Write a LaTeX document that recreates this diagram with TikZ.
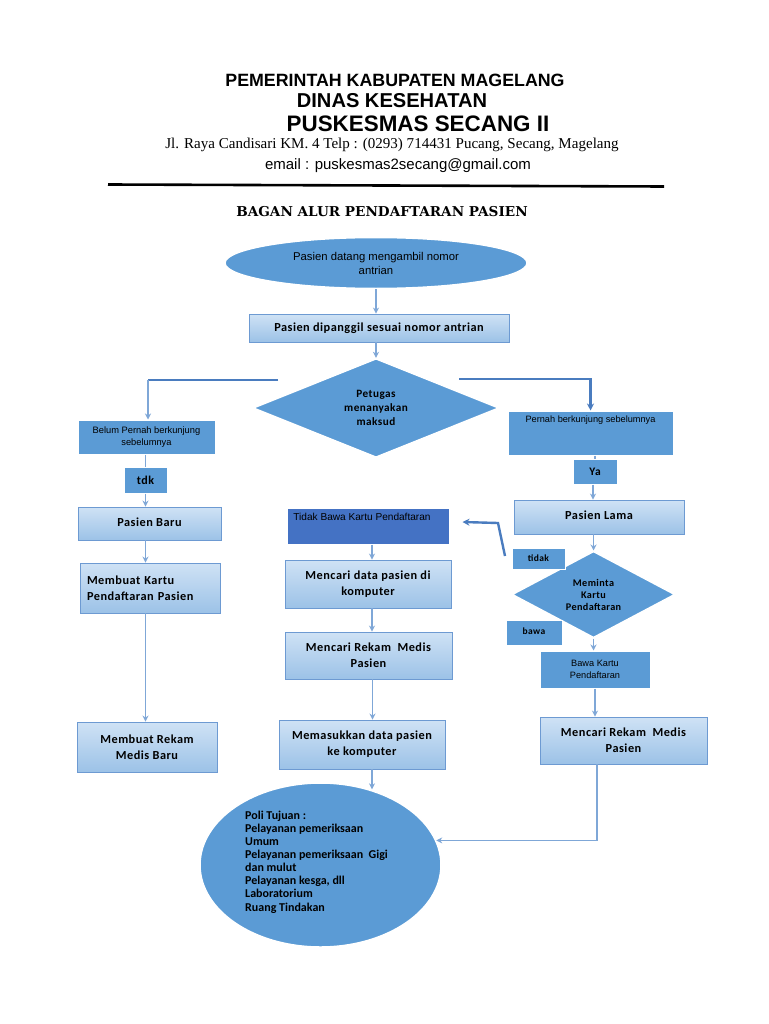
\documentclass[tikz,border=0pt]{standalone}
\usepackage{fontspec}
\usetikzlibrary{arrows.meta,shapes.geometric}
\setmainfont{Liberation Serif}
\newfontfamily\arialf{Liberation Sans}
\newfontfamily\calibf{Carlito}
\newfontfamily\calibsp[LetterSpace=4]{Carlito}
\newfontfamily\slabf{DejaVu Serif}
\definecolor{midblue}{HTML}{5B9BD5}
\definecolor{darkfill}{HTML}{4472C4}
\definecolor{boxtop}{HTML}{CFE2F5}
\definecolor{boxbot}{HTML}{9CC2E7}
\definecolor{boxborder}{HTML}{6D9AD2}
\definecolor{linec}{HTML}{7FA7D7}
\definecolor{darkline}{HTML}{4A7CBF}
\tikzset{
  bluebox/.style={rectangle, fill=midblue, draw=white, line width=1pt, inner sep=0pt, align=center, text=black},
  gradbox/.style={rectangle, top color=boxtop, bottom color=boxbot, draw=boxborder, line width=0.9pt, inner sep=0pt, align=center, text=black},
  conn/.style={draw=linec, line width=1.6pt},
  arr/.style={conn, -{Stealth[length=6pt,width=6pt]}},
  darkconn/.style={draw=darkline, line width=2.4pt},
  darkarr/.style={darkconn, -{Stealth[length=7pt,width=7pt]}},
  boldtxt/.style={font=\calibsp\bfseries\fontsize{12.3}{16}\selectfont},
  smalltxt/.style={font=\arialf\fontsize{9.2}{12}\selectfont},
}
\begin{document}
\begin{tikzpicture}[x=1pt,y=-1pt]
\useasboundingbox (0,0) rectangle (768,1024);
\fill[white] (0,0) rectangle (768,1024);
% header
\node[font=\arialf\bfseries\fontsize{17.8}{20}\selectfont] (h1) at (395,80) {PEMERINTAH KABUPATEN MAGELANG};
\node[font=\arialf\bfseries\fontsize{20.1}{22}\selectfont] (h2) at (392,101) {DINAS KESEHATAN};
\node[font=\arialf\bfseries\fontsize{22.4}{24}\selectfont] (h3) at (418,124) {PUSKESMAS SECANG II};
\node[font=\fontsize{15.05}{17}\selectfont] (h4) at (392,145) {Jl. Raya Candisari KM. 4 Telp : (0293) 714431 Pucang, Secang, Magelang};
\node[font=\arialf\fontsize{15}{17}\selectfont] (h5) at (398,166) {email : puskesmas2secang@gmail.com};
\coordinate (rl) at (108,184.5);
\coordinate (rr) at (664,186.5);
\draw[line width=2.6pt] (rl) -- (rr);
\node[font=\slabf\bfseries\fontsize{13.6}{15}\selectfont] (title) at (382,212) {BAGAN ALUR PENDAFTARAN PASIEN};

% start
\node[ellipse, fill=midblue, draw=white, line width=1.5pt, minimum width=302, minimum height=51, inner sep=0pt, align=center, font=\arialf\fontsize{11.3}{14}\selectfont] (start) at (376,263) {Pasien datang mengambil nomor\\antrian};
\node[gradbox, minimum width=260, minimum height=28, font=\calibsp\bfseries\fontsize{12.3}{16}\selectfont] (call) at (379,328) {Pasien dipanggil sesuai nomor antrian};
\node[diamond, fill=midblue, draw=white, line width=1.5pt, minimum width=246, minimum height=97, inner sep=0pt, align=center, font=\calibsp\bfseries\fontsize{11.2}{14}\selectfont] (ask) at (376,408) {Petugas\\menanyakan\\maksud};
\draw[arr] (start.south) -- (start.south |- call.north);
\draw[arr] (call.south -| ask.north) -- (ask.north);

% left column
\node[bluebox, minimum width=137, minimum height=34, font=\arialf\fontsize{9.3}{12}\selectfont] (belum) at (146.5,437) {Belum Pernah berkunjung\\sebelumnya};
\node[bluebox, minimum width=43, minimum height=26, font=\calibsp\bfseries\fontsize{12}{13}\selectfont] (tdk) at (145.5,480) {tdk};
\node[gradbox, minimum width=143, minimum height=33, boldtxt] (baru) at (149.5,523.5) {\raisebox{2pt}{Pasien Baru}};
\node[gradbox, minimum width=140, minimum height=50, boldtxt, text width=126, align=left, inner sep=7pt] (kartu) at (150,588) {Membuat Kartu\\Pendaftaran Pasien};
\node[gradbox, minimum width=140, minimum height=50, boldtxt] (rekamBaru) at (147,747) {Membuat Rekam\\Medis Baru};
\coordinate (lA) at (278,380);
\coordinate (lB) at (148,380);
\draw[darkconn] (lA) -- (lB);
\draw[arr] (lB) -- (lB |- belum.north);
\draw[conn] (belum.south -| tdk.north) -- (tdk.north);
\draw[arr] (tdk.south) -- (tdk.south |- baru.north);
\draw[arr] (baru.south -| tdk.south) -- (tdk.south |- kartu.north);
\draw[arr] (kartu.south -| tdk.south) -- (tdk.south |- rekamBaru.north);

% right column
\node[bluebox, minimum width=165, minimum height=44] (pernah) at (590.5,433) {};
\node[smalltxt] (pernahT) at ([yshift=-10pt]pernah.north) {Pernah berkunjung sebelumnya};
\node[bluebox, minimum width=44, minimum height=25, font=\calibsp\bfseries\fontsize{11.5}{12}\selectfont] (ya) at (595,471.5) {Ya};
\node[gradbox, minimum width=170, minimum height=34, boldtxt] (lama) at (599,517) {\raisebox{4pt}{Pasien Lama}};
\node[diamond, fill=midblue, draw=white, line width=1.5pt, minimum width=163, minimum height=83, inner sep=0pt, align=center, font=\calibsp\bfseries\fontsize{10.2}{12}\selectfont] (minta) at (593.5,594.5) {Meminta\\Kartu\\Pendaftaran};
\node[bluebox, minimum width=53, minimum height=21, font=\calibsp\bfseries\fontsize{9.5}{10}\selectfont] (tidakL) at (538.5,558.5) {tidak};
\node[bluebox, minimum width=56, minimum height=25, font=\calibsp\bfseries\fontsize{9.5}{10}\selectfont] (bawaL) at (534,632.5) {\raisebox{3pt}{bawa}};
\node[bluebox, minimum width=110, minimum height=37, font=\arialf\fontsize{9.2}{12}\selectfont] (bawaK) at (595,669.5) {Bawa Kartu\\Pendaftaran};
\node[gradbox, minimum width=167, minimum height=47, boldtxt] (rekam2) at (623.5,740.5) {Mencari Rekam~ Medis\\Pasien};
\coordinate (rA) at (459,379);
\draw[darkarr] (rA) -| (pernah.north);
\draw[conn] (pernah.south -| ya.north) -- (ya.north);
\draw[arr] ([xshift=-2pt]ya.south) -- ([xshift=-2pt]ya.south |- lama.north);
\draw[arr] (lama.south -| minta.north) -- (minta.north);
\draw[arr] (minta.south) -- (minta.south |- bawaK.north);
\draw[arr] (bawaK.south) -- (bawaK.south |- rekam2.north);

% middle column
\node[rectangle, fill=darkfill, draw=white, line width=1pt, minimum width=162, minimum height=36, inner sep=0pt] (tidakbawa) at (368,526) {};
\node[font=\arialf\fontsize{10.1}{12}\selectfont] (tidakbawaT) at ([xshift=-6pt,yshift=-9pt]tidakbawa.north) {Tidak Bawa Kartu Pendaftaran};
\node[gradbox, minimum width=166, minimum height=48, boldtxt] (cariData) at (368,584) {Mencari data pasien di\\komputer};
\node[gradbox, minimum width=167, minimum height=47, boldtxt] (cariRekam) at (368.5,655.5) {Mencari Rekam~ Medis\\Pasien};
\node[gradbox, minimum width=166, minimum height=49, boldtxt] (masuk) at (362,744.5) {Memasukkan data pasien\\ke komputer};
\node[ellipse, fill=midblue, draw=white, line width=1.5pt, minimum width=241, minimum height=164, inner sep=0pt] (poli) at (320.5,865) {};
\node[anchor=west, align=left, inner sep=0pt, font=\calibf\bfseries\fontsize{12}{13.1}\selectfont] (poliT) at (245,862) {Poli Tujuan :\\Pelayanan pemeriksaan\\Umum\\Pelayanan pemeriksaan~ Gigi\\dan mulut\\Pelayanan kesga, dll\\Laboratorium\\Ruang Tindakan};
\draw[arr] ([xshift=4pt]tidakbawa.south) -- ([xshift=4pt]cariData.north);
\draw[arr] ([xshift=4pt]cariData.south) -- ([xshift=4pt]cariData.south |- cariRekam.north);
\draw[arr] ([xshift=4pt]cariRekam.south) -- ([xshift=4pt]cariRekam.south |- masuk.north);
\draw[arr] ([xshift=10pt]masuk.south) -- ([xshift=10pt]masuk.south |- poli.57);
\draw[arr] ([xshift=-26.5pt]rekam2.south) |- (poli.12);

% tidak loop
\coordinate (tStart) at (505,556);
\coordinate (tBend) at (498,523);
\draw[darkarr] (tStart) -- (tBend) -- ([xshift=13pt,yshift=4pt]tidakbawa.east);
\end{tikzpicture}
\end{document}
